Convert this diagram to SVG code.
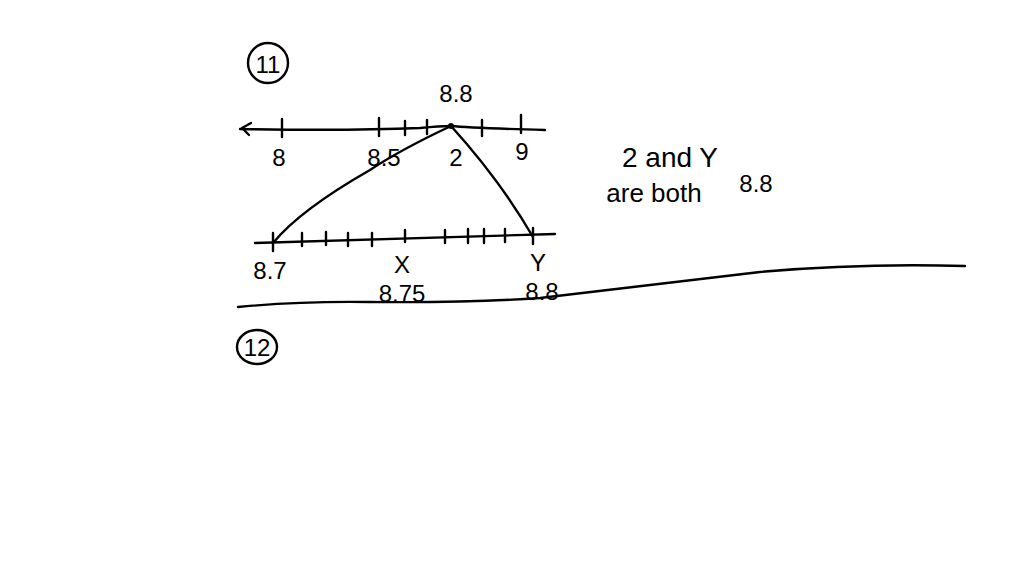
<svg xmlns="http://www.w3.org/2000/svg" width="1024" height="576" viewBox="0 0 1024 576">
<style>
.s{fill:none;stroke:#000;stroke-width:2.4;stroke-linecap:round;stroke-linejoin:round}
.t{font-family:"Liberation Sans",Arial,sans-serif;font-size:24px;fill:#000;text-anchor:middle}
</style>
<rect width="1024" height="576" fill="#fff"/>
<g id="label-11">
<ellipse class="s" cx="268" cy="63" rx="20" ry="20"/>
<text class="t" x="268" y="73">11</text>
</g>
<g id="numberline-top">
<path class="s" d="M240 129 Q345 131 420 128 Q440 126 451 126 Q470 128 545 130"/>
<path class="s" d="M251 123 L242 128 L249 135"/>
<path class="s" d="M282 119 V137 M379 118 V136 M405 121 V135 M427 120 V134 M482 120 V136 M521 115 V133"/>
<circle cx="451" cy="126" r="3"/>
<text class="t" x="279" y="166">8</text>
<text class="t" x="384" y="166">8.5</text>
<text class="t" x="456" y="166">2</text>
<text class="t" x="522" y="160">9</text>
<text class="t" x="456" y="102">8.8</text>
</g>
<g id="numberline-bottom">
<path class="s" d="M255 243 Q400 238 555 234"/>
<path class="s" d="M273 233 V251 M302 233 V246 M326 232 V245 M348 233 V246 M372 233 V246 M405 230 V242 M445 230 V243 M468 229 V243 M484 229 V243 M505 229 V242 M533 228 V244"/>
<text class="t" x="270" y="279">8.7</text>
<text class="t" x="402" y="273">X</text>
<text class="t" x="538" y="271">Y</text>
<text class="t" x="402" y="302">8.75</text>
<text class="t" x="542" y="300">8.8</text>
</g>
<g id="connectors">
<path class="s" d="M451 126 Q400 150 370 170 Q300 210 273 243"/>
<path class="s" d="M451 126 Q500 180 533 237"/>
</g>
<g id="note">
<text class="t" x="670" y="167" style="font-size:28px">2 and Y</text>
<text class="t" x="654" y="202" style="font-size:26px">are both</text>
<text class="t" x="756" y="192" style="font-size:24px">8.8</text>
</g>
<g id="divider">
<path class="s" d="M238 307 Q300 301 370 302 Q470 303 540 298 Q650 285 760 272 Q860 263 965 266"/>
</g>
<g id="label-12">
<ellipse class="s" cx="257" cy="347" rx="20" ry="17"/>
<text class="t" x="257" y="356">12</text>
</g>
</svg>
